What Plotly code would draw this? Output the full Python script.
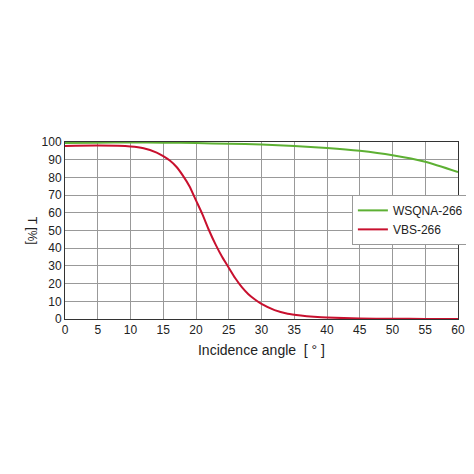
import plotly.graph_objects as go

angle_red = [0, 5, 10, 12, 14, 15, 16, 17, 18, 19, 20, 21, 22, 23, 24, 25, 26, 27, 28, 29, 30, 32, 34, 36, 38, 40, 45, 50, 55, 60]
vbs_266 = [97.8, 98, 97.5, 96.5, 94, 92, 89.5, 86, 81, 75, 67, 59, 50, 42, 35, 29, 23, 18, 14, 11, 8.5, 5, 3, 2, 1.3, 0.8, 0.3, 0.1, 0.05, 0]

angle_green = [0, 5, 10, 15, 20, 25, 30, 35, 40, 45, 50, 55, 60]
wsqna_266 = [99.5, 99.6, 99.7, 99.6, 99.4, 99, 98.6, 97.7, 96.6, 95, 92.5, 88.8, 83]

font = "Liberation Sans, Arial, sans-serif"

fig = go.Figure()
fig.add_trace(go.Scatter(x=angle_green, y=wsqna_266, mode="lines", name="WSQNA-266",
                         line=dict(color="#5db033", width=2, shape="spline", smoothing=0.6)))
fig.add_trace(go.Scatter(x=angle_red, y=vbs_266, mode="lines", name="VBS-266",
                         line=dict(color="#c8102e", width=2, shape="spline", smoothing=0.6)))

fig.update_layout(
    width=474, height=474,
    margin=dict(l=57, r=24, t=134, b=163),
    paper_bgcolor="white", plot_bgcolor="white",
    font=dict(family=font, size=12, color="#222"),
    showlegend=True,
    legend=dict(x=0.73, y=0.56, xanchor="left", yanchor="middle",
                bordercolor="#999", borderwidth=1, bgcolor="white",
                font=dict(size=12)),
    xaxis=dict(range=[0, 60], dtick=5, showgrid=True, gridcolor="#999", gridwidth=1,
               showline=True, linecolor="#333", mirror=True, ticks="", automargin=False,
               title=dict(text="Incidence angle  [ ° ]", standoff=8), zeroline=False),
    yaxis=dict(range=[0, 100], dtick=10, showgrid=True, gridcolor="#999", gridwidth=1,
               showline=True, linecolor="#333", mirror=True, ticks="", automargin=False,
               zeroline=False),
    annotations=[dict(text="T [%]", textangle=90, x=-0.105, y=0.5, xref="paper", yref="paper",
                      showarrow=False, font=dict(size=12))],
)
fig.write_html("out.html")
